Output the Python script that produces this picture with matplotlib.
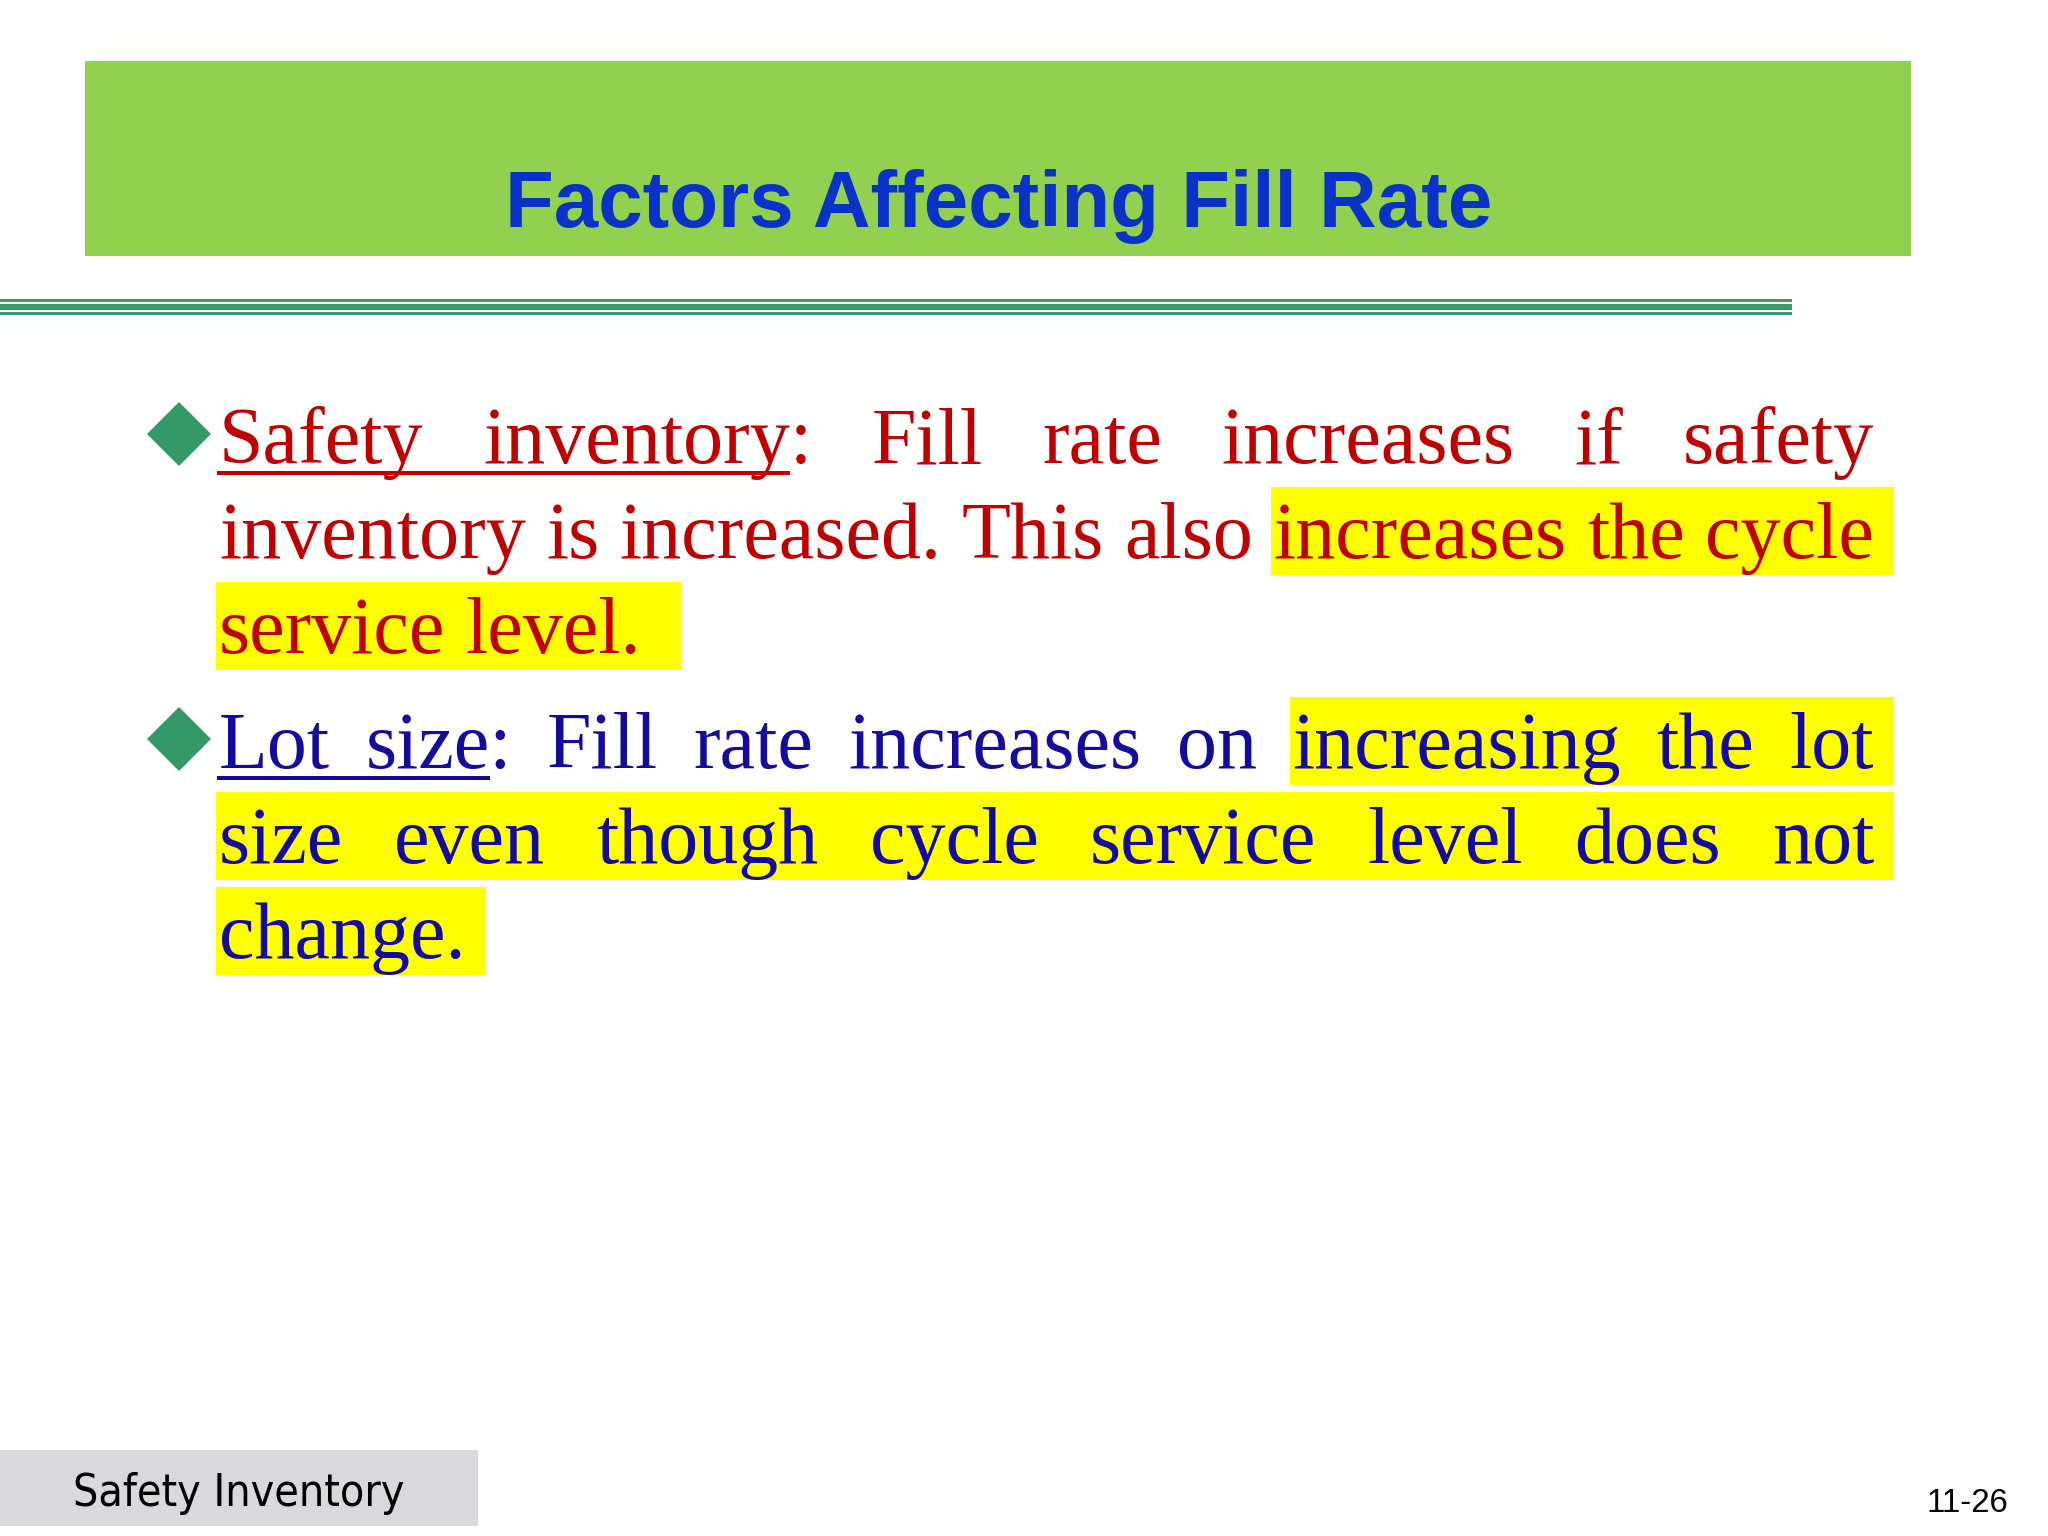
import matplotlib
matplotlib.use("Agg")
import matplotlib.pyplot as plt
from matplotlib.patches import Rectangle, Polygon

W, H = 2048, 1536

title = "Factors Affecting Fill Rate"
footer_left = "Safety Inventory"
footer_right = "11-26"

# words of each bullet, line by line, with a highlight flag per word
para1_lines = [
    ["Safety", "inventory:", "Fill", "rate", "increases", "if", "safety"],
    ["inventory", "is", "increased.", "This", "also", "increases", "the", "cycle"],
    ["service", "level."],
]
para1_marks = [
    [0, 0, 0, 0, 0, 0, 0],
    [0, 0, 0, 0, 0, 1, 1, 1],
    [1, 1],
]
para1_trail = [1, 1, 2]   # highlighted trailing spaces
para1_underline = "Safety inventory"

para2_lines = [
    ["Lot", "size:", "Fill", "rate", "increases", "on", "increasing", "the", "lot"],
    ["size", "even", "though", "cycle", "service", "level", "does", "not"],
    ["change."],
]
para2_marks = [
    [0, 0, 0, 0, 0, 0, 1, 1, 1],
    [1, 1, 1, 1, 1, 1, 1, 1],
    [1],
]
para2_trail = [1, 1, 1]
para2_underline = "Lot size"

para1_base = [463, 558, 653]
para2_base = [768, 863, 958]

RED = "#C00000"
NAVY = "#140A9E"
YELLOW = "#FFFF00"
GREEN_BOX = "#92D050"
TITLE_BLUE = "#0A32C8"
RULE = "#3A9A6A"
BULLET = "#339966"

BODY = dict(family="Liberation Serif", fontsize=57.6)
L, R = 219, 1874

fig = plt.figure(figsize=(W / 100, H / 100), dpi=100)
ax = fig.add_axes([0, 0, 1, 1])
ax.set_xlim(0, W)
ax.set_ylim(H, 0)
ax.axis("off")
fig.canvas.draw()
renderer = fig.canvas.get_renderer()


def measure(s, **kw):
    t = ax.text(0, 0, s, **kw)
    w = t.get_window_extent(renderer).width
    t.remove()
    return w


space = measure("n n", **BODY) - measure("nn", **BODY)

# header
ax.add_patch(Rectangle((85, 61), 1826, 195, color=GREEN_BOX, lw=0))
ax.text(999, 227, title, ha="center", va="baseline", color=TITLE_BLUE,
        family="Liberation Sans", fontweight="bold", fontsize=57.5)
for y0, h in [(299, 2.5), (304, 6), (312, 3)]:
    ax.add_patch(Rectangle((0, y0), 1792, h, color=RULE, lw=0))


def draw_para(lines, marks, trail, bases, color, underline):
    for i, (words, flags, base) in enumerate(zip(lines, marks, bases)):
        widths = [measure(w, **BODY) for w in words]
        last = i == len(lines) - 1
        if last or len(words) < 2:
            gap = space
        else:
            gap = (R - L - sum(widths)) / (len(words) - 1)
        xs = []
        x = L
        for w in widths:
            xs.append(x)
            x += w + gap
        # highlight spans
        j = 0
        while j < len(words):
            if flags[j]:
                k = j
                while k + 1 < len(words) and flags[k + 1]:
                    k += 1
                x0 = xs[j] - 3
                x1 = xs[k] + widths[k] + space * trail[i]
                ax.add_patch(Rectangle((x0, base - 71), x1 - x0, 88,
                                       color=YELLOW, lw=0, zorder=1))
                j = k + 1
            else:
                j += 1
        for w, x in zip(words, xs):
            ax.text(x, base, w, va="baseline", ha="left", color=color,
                    zorder=3, **BODY)
        if i == 0:
            n = len(underline.split())
            last_word = words[n - 1].rstrip(":")
            x_end = xs[n - 1] + measure(last_word, **BODY)
            ax.add_patch(Rectangle((L - 2, base + 8), x_end - L + 2, 4,
                                   color=color, lw=0, zorder=3))
            cy = base - 29
            ax.add_patch(Polygon([(147, cy), (179, cy - 32), (211, cy),
                                  (179, cy + 32)], closed=True,
                                 color=BULLET, lw=0, zorder=3))


draw_para(para1_lines, para1_marks, para1_trail, para1_base, RED, para1_underline)
draw_para(para2_lines, para2_marks, para2_trail, para2_base, NAVY, para2_underline)

# footer
ax.add_patch(Rectangle((0, 1450), 478, 76, color="#D9D8DC", lw=0))
ax.text(73, 1506, footer_left, va="baseline", ha="left", color="black",
        family="DejaVu Sans", fontstretch="condensed", fontsize=32)
ax.text(2008, 1512, footer_right, va="baseline", ha="right", color="black",
        family="Liberation Sans", fontsize=23.8)

fig.savefig("out.png", dpi=100, facecolor="white")
